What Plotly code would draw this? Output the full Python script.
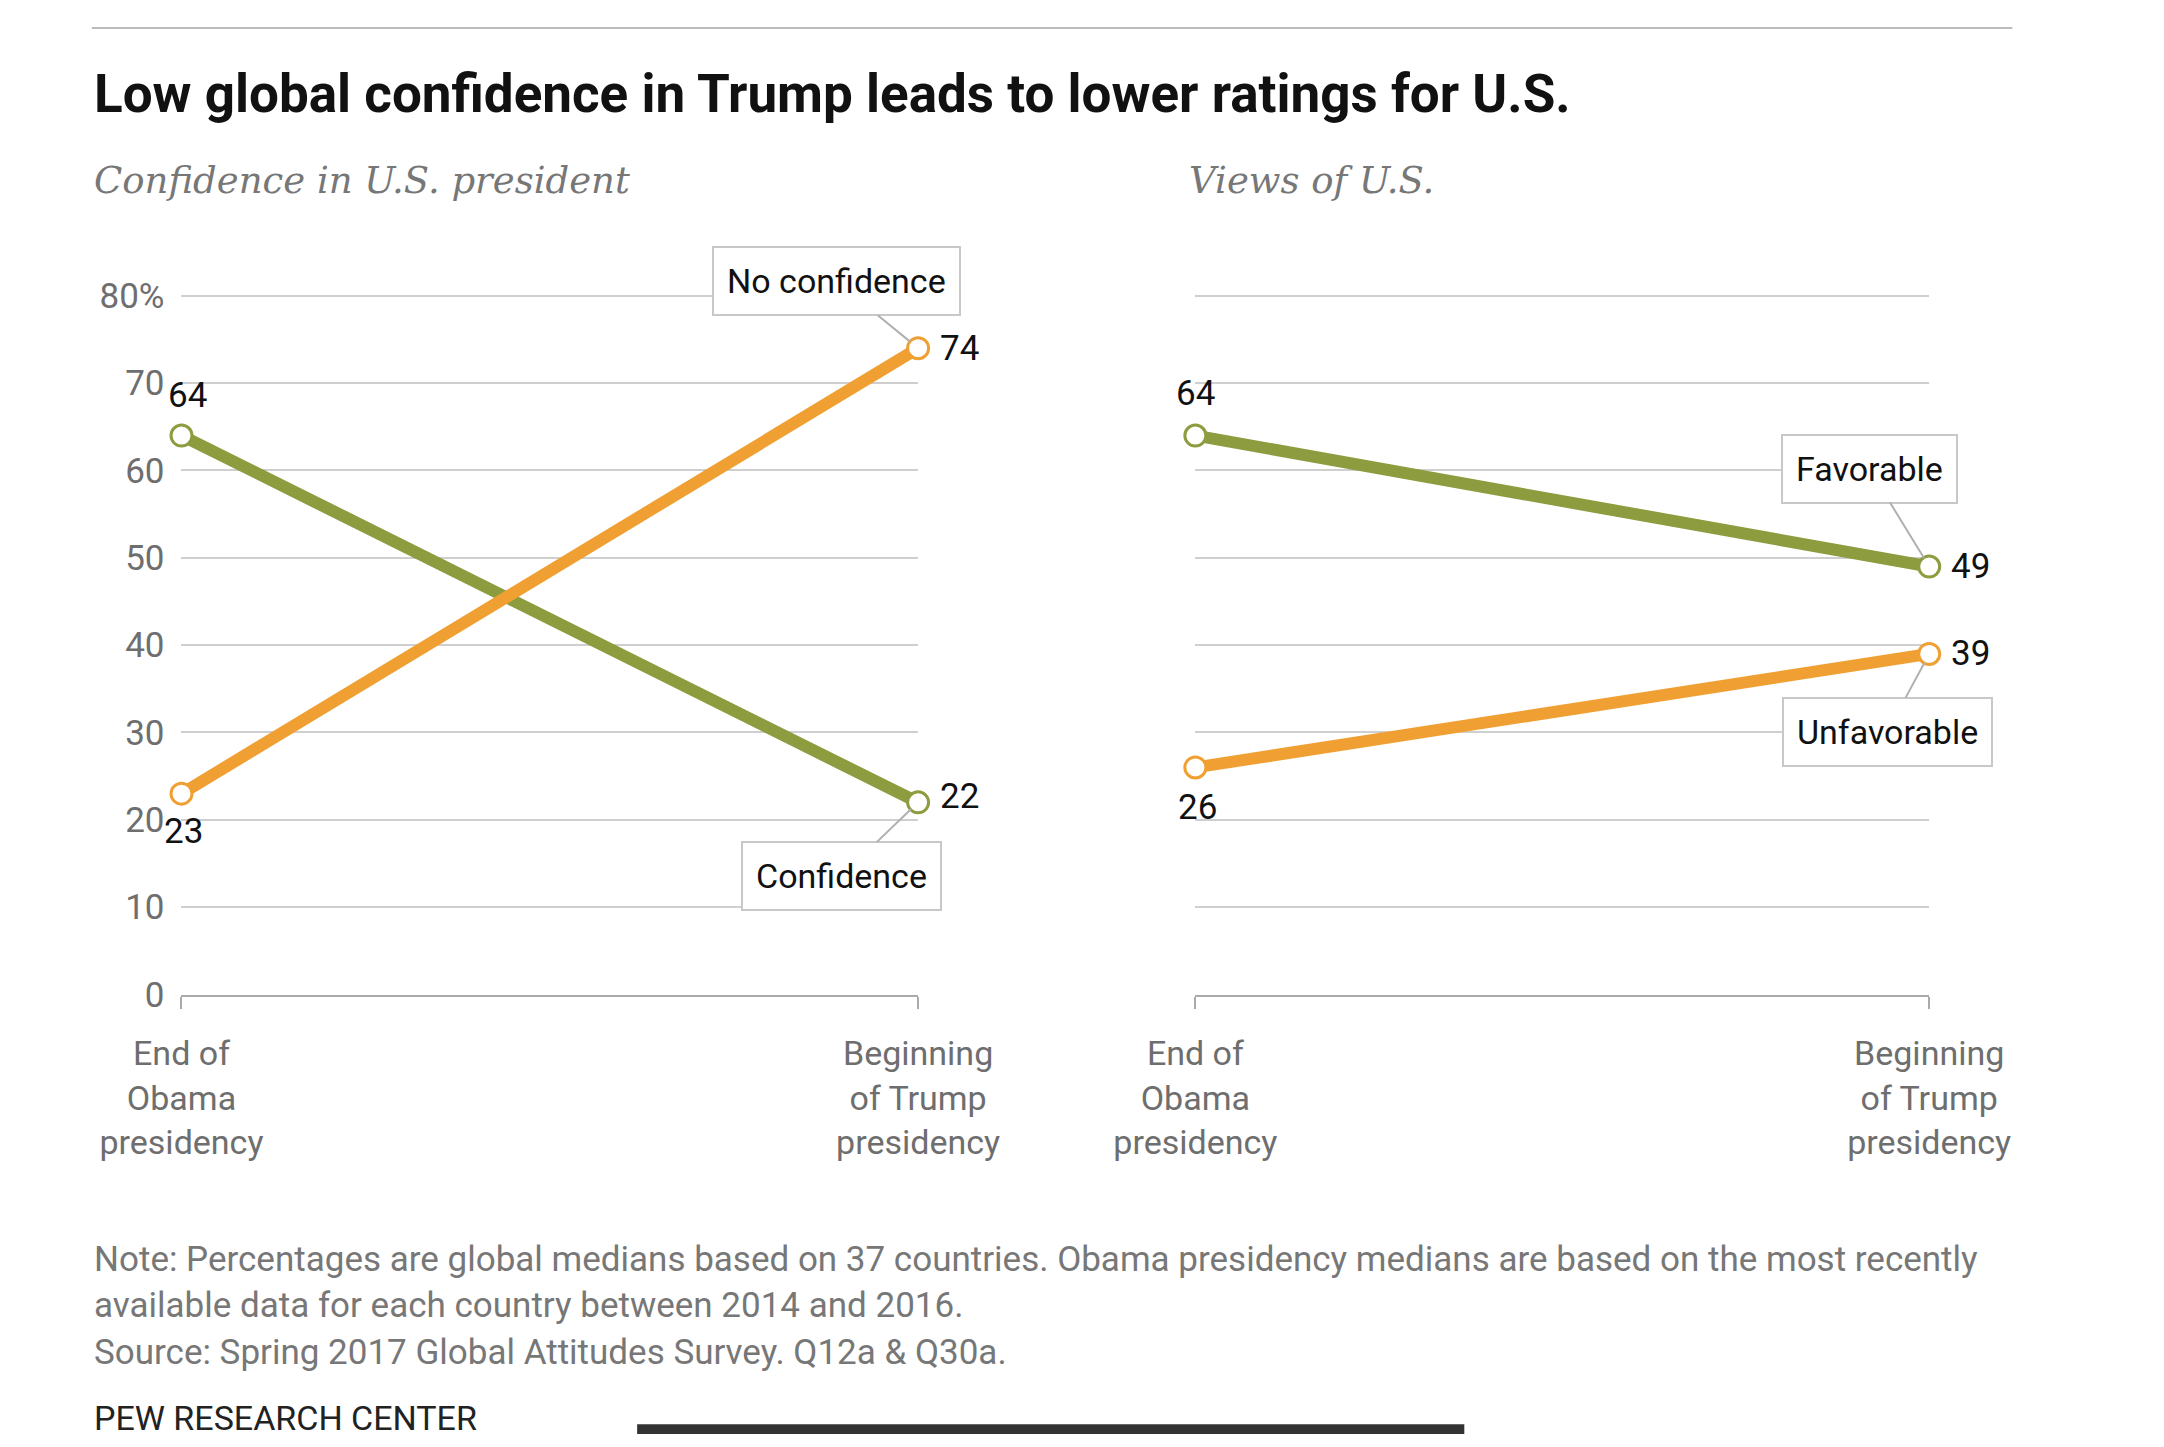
import plotly.graph_objects as go

periods = ["End of<br>Obama<br>presidency", "Beginning<br>of Trump<br>presidency"]
confidence = [64, 22]
no_confidence = [23, 74]
favorable = [64, 49]
unfavorable = [26, 39]
yticks = [0, 10, 20, 30, 40, 50, 60, 70, 80]
ytick_labels = ["0", "10", "20", "30", "40", "50", "60", "70", "80%"]

GREEN = "#8c9c3f"
ORANGE = "#f0a032"
GREY = "#6e6e6e"

fig = go.Figure()

def add_line(vals, color, xa, ya):
    fig.add_trace(go.Scatter(
        x=[0, 1], y=vals, xaxis=xa, yaxis=ya, mode="lines+markers",
        line=dict(color=color, width=12),
        marker=dict(size=21, color="white", line=dict(color=color, width=3)),
        cliponaxis=False, showlegend=False, hoverinfo="skip"))

add_line(confidence, GREEN, "x", "y")
add_line(no_confidence, ORANGE, "x", "y")
add_line(favorable, GREEN, "x2", "y2")
add_line(unfavorable, ORANGE, "x2", "y2")

ax_common = dict(range=[0, 1], tickvals=[0, 1], ticktext=periods, showgrid=False,
                 zeroline=False, showline=True, linecolor="#aaaaaa", linewidth=2,
                 ticks="outside", ticklen=12, tickcolor="#aaaaaa", tickwidth=2,
                 tickfont=dict(family="Roboto", size=34, color=GREY), ticklabelstandoff=16,
                 fixedrange=True)
ay_common = dict(range=[0, 80.4], tickvals=yticks, showgrid=True, gridcolor="#cfcfcf",
                 gridwidth=2, zeroline=False, fixedrange=True)

fig.update_layout(
    width=2164, height=1447, margin=dict(l=0, r=0, t=0, b=0),
    paper_bgcolor="white", plot_bgcolor="white",
    xaxis=dict(domain=[99 / 2164, 896 / 2164], anchor="y", **ax_common),
    xaxis2=dict(domain=[1196 / 2164, 1990 / 2164], anchor="y2", **ax_common),
    yaxis=dict(domain=[0.3117, 0.8097], anchor="x", ticktext=ytick_labels,
               tickfont=dict(family="Roboto", size=35, color=GREY),
               ticklabelstandoff=16, **ay_common),
    yaxis2=dict(domain=[0.3117, 0.8097], anchor="x2", showticklabels=False, **ay_common),
)

# value labels
def val(x, y, text, xa, ya, xs=0, ys=0, xanchor="center"):
    fig.add_annotation(x=x, y=y, xref=xa, yref=ya, text=str(text), showarrow=False,
                       xshift=xs, yshift=ys, xanchor=xanchor,
                       font=dict(family="Roboto", size=35, color="#111111"))

val(0, confidence[0], confidence[0], "x", "y", xs=6, ys=40)
val(0, no_confidence[0], no_confidence[0], "x", "y", xs=2, ys=-38)
val(1, no_confidence[1], no_confidence[1], "x", "y", xs=20, xanchor="left")
val(1, confidence[1], confidence[1], "x", "y", xs=20, ys=6, xanchor="left")
val(0, favorable[0], favorable[0], "x2", "y2", ys=42)
val(0, unfavorable[0], unfavorable[0], "x2", "y2", xs=2, ys=-40)
val(1, favorable[1], favorable[1], "x2", "y2", xs=20, xanchor="left")
val(1, unfavorable[1], unfavorable[1], "x2", "y2", xs=20, xanchor="left")

# callout boxes
def callout(x, y, text, xa, ya, ax, ay):
    fig.add_annotation(x=x, y=y, xref=xa, yref=ya, text=text, showarrow=True,
                       ax=ax, ay=ay, arrowhead=0, arrowwidth=2, arrowcolor="#b0b0b0",
                       standoff=10, bgcolor="white", bordercolor="#c8c8c8", borderwidth=2,
                       borderpad=13, font=dict(family="Roboto", size=34, color="#111111"))

callout(1, no_confidence[1], "No confidence", "x", "y", -82, -67)
callout(1, confidence[1], "Confidence", "x", "y", -77, 74)
callout(1, favorable[1], "Favorable", "x2", "y2", -60, -98)
callout(1, unfavorable[1], "Unfavorable", "x2", "y2", -42, 78)

# titles and notes
def ptext(x, y, text, size, color, family="Roboto", **kw):
    fig.add_annotation(x=x / 2164, y=1 - y / 1447, xref="paper", yref="paper", text=text,
                       showarrow=False, xanchor="left", yanchor="middle", align="left",
                       font=dict(family=family, size=size, color=color), **kw)

ptext(2, 72, "<b>Low global confidence in Trump leads to lower ratings for U.S.</b>", 53, "#111111")
ptext(2, 161, "<i>Confidence in U.S. president</i>", 37, "#777777", family="DejaVu Serif")
ptext(1187, 161, "<i>Views of U.S.</i>", 37, "#777777", family="DejaVu Serif")
ptext(2, 1292, "Note: Percentages are global medians based on 37 countries. Obama presidency medians are based on the most recently<br>"
      "available data for each country between 2014 and 2016.", 35, "#777777")
ptext(2, 1363, "Source: Spring 2017 Global Attitudes Survey. Q12a &amp; Q30a.", 35, "#777777")
ptext(2, 1431, "PEW RESEARCH CENTER", 34, "#222222")

fig.add_shape(type="line", xref="paper", yref="paper", x0=2 / 2164, x1=2080 / 2164,
              y0=1 - 4 / 1447, y1=1 - 4 / 1447, line=dict(color="#bbbbbb", width=2))
fig.add_shape(type="rect", xref="paper", yref="paper", x0=592 / 2164, x1=1487 / 2164,
              y0=0, y1=10 / 1447, line=dict(width=0), fillcolor="#333333")

fig.write_html("out.html")
